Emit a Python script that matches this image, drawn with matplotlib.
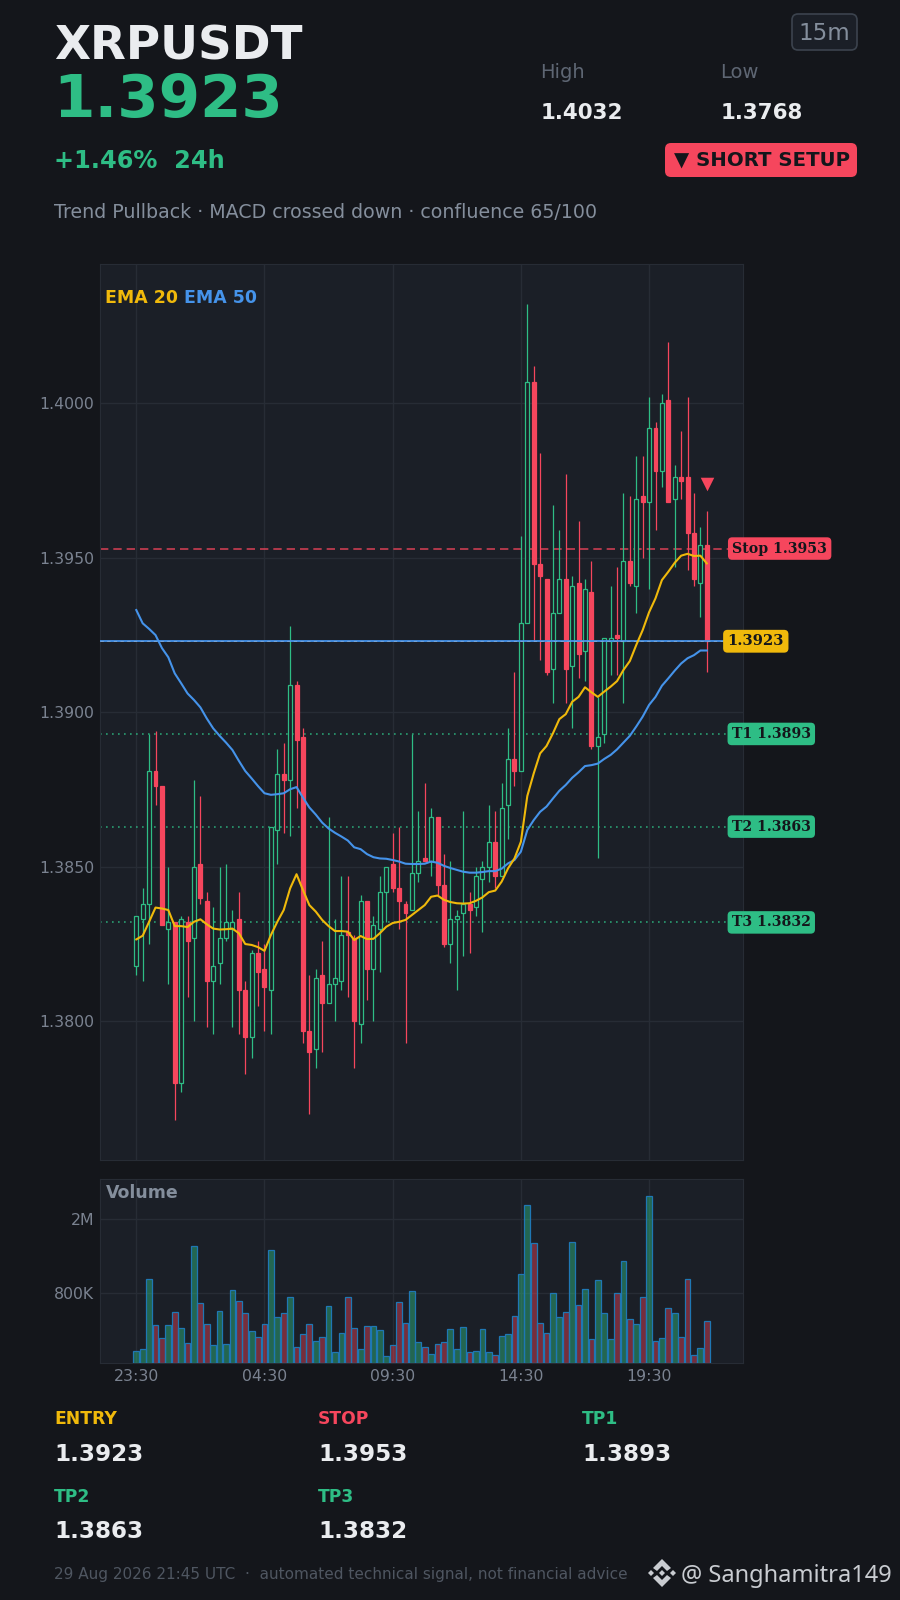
import matplotlib
matplotlib.use('Agg')
import matplotlib.pyplot as plt
from matplotlib.patches import FancyBboxPatch, Polygon
from matplotlib.ticker import NullLocator

opens = [1.3818,1.3833,1.3838,1.3881,1.3876,1.3830,1.3832,1.3780,1.3832,1.3827,
         1.3851,1.3839,1.3813,1.3819,1.3827,1.3830,1.3833,1.3810,1.3795,1.3822,
         1.3817,1.3810,1.3862,1.3880,1.3878,1.3909,1.3892,1.3797,1.3791,1.3815,
         1.3806,1.3812,1.3813,1.3829,1.3827,1.3799,1.3839,1.3817,1.3830,1.3842,
         1.3851,1.3843,1.3838,1.3836,1.3848,1.3853,1.3852,1.3866,1.3844,1.3825,
         1.3833,1.3835,1.3838,1.3837,1.3846,1.3850,1.3858,1.3847,1.3870,1.3885,
         1.3881,1.3929,1.4007,1.3948,1.3943,1.3914,1.3932,1.3943,1.3915,1.3942,
         1.3920,1.3939,1.3889,1.3893,1.3923,1.3925,1.3923,1.3949,1.3941,1.3970,
         1.3968,1.3992,1.3978,1.4001,1.3969,1.3976,1.3976,1.3958,1.3942,1.3954]
closes = [1.3834,1.3838,1.3881,1.3876,1.3831,1.3832,1.3780,1.3833,1.3826,1.3850,
          1.3840,1.3813,1.3818,1.3827,1.3832,1.3832,1.3810,1.3795,1.3822,1.3816,
          1.3811,1.3863,1.3880,1.3878,1.3909,1.3891,1.3797,1.3790,1.3814,1.3806,
          1.3812,1.3814,1.3828,1.3828,1.3800,1.3839,1.3817,1.3831,1.3842,1.3850,
          1.3843,1.3839,1.3835,1.3848,1.3852,1.3852,1.3866,1.3844,1.3825,1.3833,
          1.3834,1.3838,1.3836,1.3847,1.3850,1.3858,1.3847,1.3869,1.3885,1.3881,
          1.3929,1.4007,1.3948,1.3944,1.3913,1.3932,1.3943,1.3914,1.3941,1.3919,
          1.3940,1.3889,1.3892,1.3924,1.3924,1.3924,1.3949,1.3942,1.3969,1.3968,
          1.3992,1.3978,1.4000,1.3968,1.3976,1.3975,1.3958,1.3943,1.3954,1.3923]
highs = [1.3834,1.3843,1.3893,1.3894,1.3876,1.3850,1.3832,1.3834,1.3834,1.3878,
         1.3873,1.3842,1.3837,1.3850,1.3851,1.3836,1.3842,1.3813,1.3823,1.3826,
         1.3825,1.3863,1.3888,1.3890,1.3928,1.3910,1.3895,1.3815,1.3817,1.3826,
         1.3866,1.3833,1.3847,1.3847,1.3828,1.3841,1.3839,1.3834,1.3847,1.3850,
         1.3861,1.3863,1.3839,1.3893,1.3868,1.3877,1.3869,1.3866,1.3854,1.3852,
         1.3836,1.3868,1.3842,1.3850,1.3852,1.3870,1.3868,1.3877,1.3895,1.3913,
         1.3957,1.4032,1.4012,1.3984,1.3943,1.3967,1.3959,1.3977,1.3944,1.3962,
         1.3943,1.3949,1.3905,1.3924,1.3941,1.3947,1.3971,1.3970,1.3983,1.3983,
         1.4002,1.3994,1.4003,1.4020,1.3980,1.3991,1.4002,1.3971,1.3960,1.3965]
lows = [1.3815,1.3813,1.3825,1.3870,1.3831,1.3812,1.3768,1.3777,1.3808,1.3800,
        1.3838,1.3798,1.3796,1.3812,1.3826,1.3798,1.3796,1.3783,1.3788,1.3805,
        1.3797,1.3796,1.3851,1.3861,1.3860,1.3869,1.3793,1.3770,1.3785,1.3790,
        1.3806,1.3800,1.3810,1.3808,1.3785,1.3793,1.3807,1.3800,1.3816,1.3832,
        1.3842,1.3830,1.3793,1.3836,1.3845,1.3852,1.3847,1.3841,1.3824,1.3819,
        1.3810,1.3821,1.3822,1.3834,1.3829,1.3845,1.3843,1.3847,1.3859,1.3876,
        1.3881,1.3929,1.3923,1.3917,1.3912,1.3903,1.3932,1.3903,1.3895,1.3911,
        1.3910,1.3888,1.3853,1.3890,1.3912,1.3912,1.3903,1.3941,1.3932,1.3950,
        1.3940,1.3959,1.3973,1.3968,1.3947,1.3969,1.3946,1.3941,1.3931,1.3913]

ema20 = [1.38265,1.38277,1.38322,1.38368,1.38365,1.38360,1.38308,1.38308,1.38305,1.38322,
         1.38330,1.38314,1.38300,1.38297,1.38298,1.38300,1.38285,1.38250,1.38247,1.38240,
         1.38228,1.38279,1.38322,1.38360,1.38430,1.38476,1.38425,1.38376,1.38355,1.38328,
         1.38308,1.38292,1.38292,1.38290,1.38263,1.38276,1.38266,1.38267,1.38285,1.38306,
         1.38318,1.38322,1.38328,1.38344,1.38360,1.38376,1.38403,1.38407,1.38393,1.38386,
         1.38382,1.38381,1.38382,1.38390,1.38401,1.38418,1.38423,1.38452,1.38495,1.38527,
         1.38581,1.38729,1.38802,1.38867,1.38891,1.38932,1.38978,1.38994,1.39034,1.39050,
         1.39081,1.39065,1.39050,1.39067,1.39083,1.39101,1.39137,1.39166,1.39218,1.39266,
         1.39324,1.39369,1.39428,1.39455,1.39484,1.39507,1.39513,1.39506,1.39507,1.39482]
ema50 = [1.39331,1.39288,1.39270,1.39250,1.39208,1.39178,1.39126,1.39094,1.39061,1.39040,
         1.39016,1.38980,1.38948,1.38924,1.38902,1.38878,1.38843,1.38810,1.38786,1.38761,
         1.38738,1.38733,1.38735,1.38738,1.38751,1.38758,1.38724,1.38692,1.38669,1.38643,
         1.38624,1.38610,1.38598,1.38585,1.38563,1.38557,1.38541,1.38531,1.38527,1.38526,
         1.38522,1.38517,1.38510,1.38509,1.38509,1.38510,1.38517,1.38513,1.38503,1.38496,
         1.38490,1.38484,1.38481,1.38481,1.38483,1.38486,1.38486,1.38494,1.38511,1.38522,
         1.38549,1.38619,1.38651,1.38678,1.38695,1.38721,1.38746,1.38765,1.38788,1.38806,
         1.38826,1.38829,1.38834,1.38849,1.38862,1.38880,1.38902,1.38924,1.38954,1.38986,
         1.39024,1.39050,1.39086,1.39110,1.39135,1.39158,1.39175,1.39185,1.39200,1.39200]

volumes = [390,400,951,538,458,538,632,519,431,1432,
           707,545,420,640,425,830,725,625,500,464,
           545,1362,594,625,761,410,482,545,442,464,
           681,385,488,761,519,400,532,532,506,367,
           420,716,552,820,436,410,376,425,436,512,
           400,525,385,390,512,385,371,470,482,602,
           1012,2378,1486,552,488,800,594,632,1504,690,
           841,453,940,625,453,800,1189,580,545,761,
           2658,442,458,665,625,464,951,371,405,566]

time_ticks = [0, 20, 40, 60, 80]
time_labels = ['23:30', '04:30', '09:30', '14:30', '19:30']
price_ticks = [1.38, 1.385, 1.39, 1.395, 1.40]
price_labels = ['1.3800', '1.3850', '1.3900', '1.3950', '1.4000']
vol_ticks = [800, 2000]
vol_labels = ['800K', '2M']

entry = 1.3923
stop = 1.3953
targets = [1.3893, 1.3863, 1.3832]
signal_price = 1.3974

BG = '#14161b'
PANEL = '#1b1f27'
GRID = '#272c35'
GREEN = '#2ebd85'
RED = '#f6465d'
YELLOW = '#f0b90b'
BLUE = '#4593ea'
WHITE = '#eaecef'
GRAY = '#848e9c'
TICK = '#7a8290'
DIM = '#5e6673'

plt.rcParams['font.family'] = ['DejaVu Sans']

fig = plt.figure(figsize=(9, 16), dpi=100, facecolor=BG)

# whole-figure layer in pixels for the header, stats and footer
page = fig.add_axes([0, 0, 1, 1], zorder=0)
page.set_xlim(0, 900)
page.set_ylim(1600, 0)
page.axis('off')

ax = fig.add_axes([100/900, 1-1160/1600, 643/900, 896/1600], facecolor=PANEL, zorder=1)
vol = fig.add_axes([100/900, 1-1363/1600, 643/900, 184/1600], facecolor=PANEL, zorder=1)

xs = list(range(len(opens)))
colors = [GREEN if c >= o else RED for o, c in zip(opens, closes)]

ax.vlines(xs, lows, highs, colors=colors, linewidth=0.9, zorder=3)
tops = [max(o, c) for o, c in zip(opens, closes)]
bots = [min(o, c) for o, c in zip(opens, closes)]
faces = [PANEL if col == GREEN else RED for col in colors]
ax.bar(xs, [t-b for t, b in zip(tops, bots)], bottom=bots, width=0.62, color=faces,
       edgecolor=colors, linewidth=0.9, zorder=4)

ax.plot(xs, ema50, color=BLUE, linewidth=1.5, zorder=5)
ax.plot(xs, ema20, color=YELLOW, linewidth=1.5, zorder=6)

ax.axhline(entry, color=BLUE, linewidth=1.3, zorder=5)
ax.axhline(entry, color='#7fa8d8', linewidth=0.6, linestyle=(0, (4, 4)), zorder=5)
ax.axhline(stop, color=RED, linewidth=1.2, linestyle=(0, (5, 3)), alpha=0.8, zorder=2)
for t in targets:
    ax.axhline(t, color=GREEN, linewidth=1.2, linestyle=(0, (1, 2.6)), alpha=0.8, zorder=2)

ax.scatter([xs[-1]], [signal_price], marker='v', s=95, color=RED, linewidths=0, zorder=7)

ax.set_xlim(-5.66, 94.65)
ax.set_ylim(1.37551, 1.40451)
ax.set_xticks(time_ticks)
ax.set_xticklabels([])
ax.set_yticks(price_ticks)
ax.set_yticklabels(price_labels)
ax.grid(True, color=GRID, linewidth=1.0, zorder=0)
ax.set_axisbelow(True)
ax.tick_params(axis='both', length=0, labelsize=11.3, labelcolor=TICK, pad=4)
for s in ax.spines.values():
    s.set_color(GRID)

ax.text(0.0085, 0.9625, 'EMA 20', transform=ax.transAxes, color=YELLOW, fontsize=12.5,
        fontweight='bold', va='center')
ax.text(0.131, 0.9625, 'EMA 50', transform=ax.transAxes, color=BLUE, fontsize=12.5,
        fontweight='bold', va='center')


def level_tag(txt, price, color, center, size=10.2):
    ax.annotate(txt, xy=(center, price), xycoords=ax.get_yaxis_transform(), ha='center',
                va='center', color=BG, fontsize=size, fontweight='bold',
                family='DejaVu Serif', annotation_clip=False, zorder=8,
                bbox=dict(boxstyle='round,pad=0.3', fc=color, ec='none'))


level_tag('Stop 1.3953', stop, RED, 1.057)
level_tag('1.3923', entry, YELLOW, 1.0199, size=10.6)
level_tag('T1 1.3893', targets[0], GREEN, 1.044)
level_tag('T2 1.3863', targets[1], GREEN, 1.044)
level_tag('T3 1.3832', targets[2], GREEN, 1.044)

# volume panel, log scale
vol_faces = [(0.18, 0.74, 0.52, 0.45) if col == GREEN else (0.96, 0.27, 0.36, 0.42) for col in colors]
vol_floor = 335
vol.bar(xs, [v-vol_floor for v in volumes], bottom=vol_floor, width=0.9, color=vol_faces,
        edgecolor='#1f77b4', linewidth=0.9, zorder=3)
vol.set_yscale('log')
vol.set_xlim(-5.66, 94.65)
vol.set_ylim(vol_floor, 3290)
vol.yaxis.set_minor_locator(NullLocator())
vol.set_yticks(vol_ticks)
vol.set_yticklabels(vol_labels)
vol.set_xticks(time_ticks)
vol.set_xticklabels(time_labels)
vol.grid(True, color=GRID, linewidth=1.0, zorder=0)
vol.set_axisbelow(True)
vol.tick_params(axis='both', length=0, labelsize=11.3, labelcolor=TICK, pad=4)
for s in vol.spines.values():
    s.set_color(GRID)
vol.text(0.0085, 0.925, 'Volume', transform=vol.transAxes, color=GRAY, fontsize=12.5,
         fontweight='bold', va='center')

# header
page.text(54, 59, 'XRPUSDT', color=WHITE, fontsize=33.7, fontweight='bold')
page.text(53, 117, '1.3923', color=GREEN, fontsize=42.8, fontweight='bold')
page.text(54, 168, '+1.46%  24h', color=GREEN, fontsize=17.3, fontweight='bold')
page.text(54, 218, 'Trend Pullback · MACD crossed down · confluence 65/100', color=GRAY, fontsize=13.65)
page.text(540.5, 78, 'High', color=DIM, fontsize=14)
page.text(540.5, 119, '1.4032', color=WHITE, fontsize=15.4, fontweight='bold')
page.text(720.5, 78, 'Low', color=DIM, fontsize=14)
page.text(720.5, 119, '1.3768', color=WHITE, fontsize=15.4, fontweight='bold')

page.add_patch(FancyBboxPatch((795, 17), 59, 30, boxstyle='round,pad=3,rounding_size=6',
                              fc=PANEL, ec='#3c434e', lw=1.2))
page.text(824.5, 31, '15m', color=GRAY, fontsize=16.5, ha='center', va='center_baseline')
page.add_patch(FancyBboxPatch((668, 146), 186, 28, boxstyle='round,pad=3,rounding_size=6',
                              fc=RED, ec='none'))
page.text(761.5, 158, '▼ SHORT SETUP', color=BG, fontsize=14.2, fontweight='bold',
          ha='center', va='center_baseline')

# bottom stats
stats = [('ENTRY', '1.3923', YELLOW, 54, 1424, 1461),
         ('STOP', '1.3953', RED, 318, 1424, 1461),
         ('TP1', '1.3893', GREEN, 582, 1424, 1461),
         ('TP2', '1.3863', GREEN, 54, 1502, 1538),
         ('TP3', '1.3832', GREEN, 318, 1502, 1538)]
for lab, val, col, x, y1, y2 in stats:
    page.text(x, y1, lab, color=col, fontsize=12.3, fontweight='bold')
    page.text(x, y2, val, color=WHITE, fontsize=16.6, fontweight='bold')

page.text(54, 1579, '29 Aug 2026 21:45 UTC  ·  automated technical signal, not financial advice',
          color='#4f5661', fontsize=10.98)

# binance mark + handle
logo_col = '#c9ccd1'
cx, cy = 662, 1573
page.add_patch(Polygon([(cx, cy-14), (cx+9, cy-5), (cx+5, cy-2), (cx, cy-7), (cx-5, cy-2), (cx-9, cy-5)], fc=logo_col, ec='none'))
page.add_patch(Polygon([(cx, cy+14), (cx+9, cy+5), (cx+5, cy+2), (cx, cy+7), (cx-5, cy+2), (cx-9, cy+5)], fc=logo_col, ec='none'))
for dx in (-11, 0, 11):
    page.add_patch(Polygon([(cx+dx, cy-3), (cx+dx+3, cy), (cx+dx, cy+3), (cx+dx-3, cy)], fc=logo_col, ec='none'))
page.text(681, 1582, '@ Sanghamitra149', color=logo_col, fontsize=17, family='Noto Sans')

fig.savefig('out.png', dpi=100, facecolor=BG)
